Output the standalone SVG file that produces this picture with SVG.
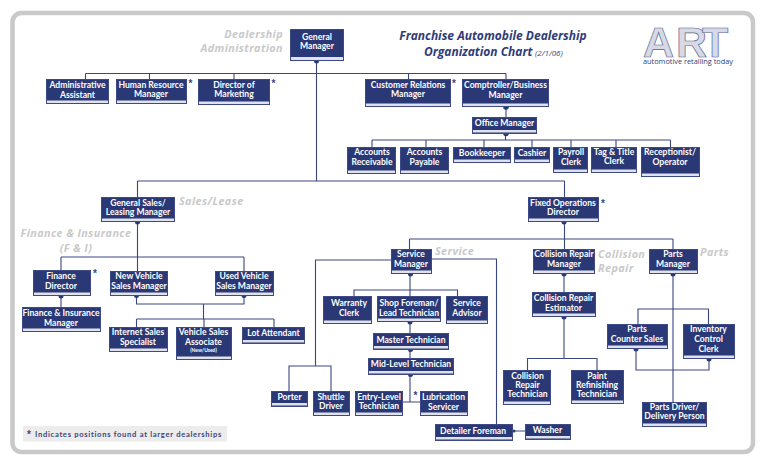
<svg xmlns="http://www.w3.org/2000/svg" width="768" height="466" viewBox="0 0 768 466">
<style>
.bg{fill:#fff}
.frame{fill:none;stroke:#c9c9c9;stroke-width:4.5}
.n rect.b{fill:#2a3875;stroke:#3d4a85;stroke-width:1}
.n rect.s{fill:#dfe2ee}
.n text{font-family:"Lato","Noto Sans",sans-serif;font-weight:700;font-size:8.6px;fill:#fff;text-anchor:middle}
.n text.sm{font-size:5px}
.c path{fill:none;stroke:#3a4680;stroke-width:1.1}
.c circle{fill:#2a3875}
.sec{font-family:"Open Sans","Noto Sans",sans-serif;font-weight:700;font-style:italic;font-size:10.8px;fill:#c9c9c9;letter-spacing:.4px}
.title{font-family:"Open Sans","Noto Sans",sans-serif;font-weight:700;font-style:italic;font-size:12px;fill:#2f3c78}
.star{font-family:"Liberation Sans",sans-serif;font-weight:700;font-size:10px;fill:#3a4680}
</style>
<rect class="bg" width="768" height="466"/>
<rect class="frame" x="12.5" y="13" width="740.5" height="439" rx="9"/>
<text class="sec" x="283" y="38" text-anchor="end">Dealership</text>
<text class="sec" x="283" y="52" text-anchor="end">Administration</text>
<text class="sec" x="179" y="205">Sales/Lease</text>
<text class="sec" x="76" y="237" text-anchor="middle">Finance &amp; Insurance</text>
<text class="sec" x="76" y="251.5" text-anchor="middle">(F &amp; I)</text>
<text class="sec" x="435" y="255">Service</text>
<text class="sec" x="598" y="257.5">Collision</text>
<text class="sec" x="598" y="272">Repair</text>
<text class="sec" x="700" y="256">Parts</text>
<text class="title" x="493" y="39.5" text-anchor="middle">Franchise Automobile Dealership</text>
<text class="title" x="424" y="56">Organization Chart</text>
<text x="535" y="56" style="font-family:'Open Sans',sans-serif;font-style:italic;font-size:8px;fill:#3a4680">(2/1/06)</text>
<g id="logo">
<text x="643 676 702" y="57" style="font-family:'Liberation Sans',sans-serif;font-weight:700;font-size:43px;fill:#d6dae6;stroke:#5b6690;stroke-width:.7">ART</text>
<text x="643" y="63.5" textLength="90" lengthAdjust="spacingAndGlyphs" style="font-family:'Open Sans',sans-serif;font-size:7.4px;fill:#2f3c78">automotive retailing today</text>
</g>
<g class="c" id="connectors">
<path d="M316.5 61V181M85.5 73.5H506M85.5 73.5V79M149.5 73.5V79M234 73.5V79M408.5 73.5V79M506 73.5V117"/>
<path d="M505.5 133V140M372 140H670.5M372 140V147M426 140V147M484 140V147M532 140V147M571 140V147M616 140V147M670.5 140V147"/>
<path d="M137.5 181H564.5M137.5 181V197M564.5 181V197"/>
<path d="M137.5 222V271M61 257H244M61 257V270M244 257V271M61 296V307M136.5 296V304H244V296M203.5 304V319M136.5 319H274M136.5 319V327M204 319V327M274 319V327"/>
<path d="M564.5 222V249M409.5 239H673M409.5 239V249M673 239V249"/>
<path d="M391 260H315.5V366M289 391V366H331V391M432 259H496.5V424"/>
<path d="M410 274V296M354 296V290H457.5V296M410 322V333M410 350V358M410 375V402M403 402H420M513 431H525"/>
<path d="M564 274V292M564 317V358.5M527.5 370V358.5H597V370"/>
<path d="M673 274V402M638 324V309H708.5V324M636 349V370H709V359"/>
<circle cx="316.5" cy="61" r="2.5"/><circle cx="506" cy="107" r="2.8"/><circle cx="506" cy="133.5" r="2.8"/><circle cx="137.5" cy="222" r="2.5"/><circle cx="564" cy="222" r="2.5"/><circle cx="61" cy="296" r="2.5"/><circle cx="136.5" cy="295.5" r="2.5"/><circle cx="244" cy="295.5" r="2.5"/><circle cx="410.5" cy="274" r="2.5"/><circle cx="410" cy="322" r="2.5"/><circle cx="410.5" cy="349.5" r="2.5"/><circle cx="410.5" cy="374.5" r="2.5"/><circle cx="564" cy="274" r="2.5"/><circle cx="564" cy="317" r="2.5"/><circle cx="673" cy="274" r="2.5"/><circle cx="636" cy="349" r="2.5"/><circle cx="709" cy="359" r="2.5"/><circle cx="514" cy="431" r="1.5"/>
</g>
<g id="general-manager" class="n"><rect class="b" x="290.5" y="29.5" width="53" height="31"/><rect class="s" x="291" y="57" width="52" height="3"/><text x="317" y="40">General</text><text x="317" y="49">Manager</text></g>
<g id="administrative-assistant" class="n"><rect class="b" x="46.5" y="79.5" width="62" height="24"/><rect class="s" x="47" y="100.5" width="61" height="2.5"/><text x="77.5" y="88">Administrative</text><text x="77.5" y="98">Assistant</text></g>
<g id="human-resource-manager" class="n"><rect class="b" x="116.5" y="79.5" width="70" height="24"/><rect class="s" x="117" y="100.5" width="69" height="2.5"/><text x="151" y="88">Human Resource</text><text x="151" y="97">Manager</text></g>
<g id="director-of-marketing" class="n"><rect class="b" x="198.5" y="79.5" width="71" height="25"/><rect class="s" x="199" y="101.5" width="70" height="2.5"/><text x="234" y="88">Director of</text><text x="234" y="97">Marketing</text></g>
<g id="customer-relations-manager" class="n"><rect class="b" x="365.5" y="79.5" width="85" height="27"/><rect class="s" x="366" y="103.5" width="84" height="2.5"/><text x="408" y="88">Customer Relations</text><text x="408" y="97">Manager</text></g>
<g id="comptroller" class="n"><rect class="b" x="462.5" y="79.5" width="86" height="27"/><rect class="s" x="463" y="103.5" width="85" height="2.5"/><text x="505.5" y="88">Comptroller/Business</text><text x="505.5" y="97.5">Manager</text></g>
<g id="office-manager" class="n"><rect class="b" x="472.5" y="117.5" width="64" height="16"/><rect class="s" x="473" y="130" width="63" height="2.5"/><text x="504.5" y="126">Office Manager</text></g>
<g id="accounts-receivable" class="n"><rect class="b" x="347.5" y="147.5" width="48" height="26"/><rect class="s" x="348" y="170.5" width="47" height="2.5"/><text x="372" y="155">Accounts</text><text x="372" y="165">Receivable</text></g>
<g id="accounts-payable" class="n"><rect class="b" x="400.5" y="147.5" width="48" height="26"/><rect class="s" x="401" y="170.5" width="47" height="2.5"/><text x="424.5" y="155">Accounts</text><text x="424.5" y="165">Payable</text></g>
<g id="bookkeeper" class="n"><rect class="b" x="453.5" y="147.5" width="57" height="15"/><rect class="s" x="454" y="159.5" width="56" height="2.5"/><text x="482" y="155.5">Bookkeeper</text></g>
<g id="cashier" class="n"><rect class="b" x="514.5" y="147.5" width="35" height="15"/><rect class="s" x="515" y="159.5" width="34" height="2.5"/><text x="532" y="155.5">Cashier</text></g>
<g id="payroll-clerk" class="n"><rect class="b" x="553.5" y="147.5" width="34" height="25"/><rect class="s" x="554" y="169.5" width="33" height="2.5"/><text x="571" y="155">Payroll</text><text x="571" y="165">Clerk</text></g>
<g id="tag-title-clerk" class="n"><rect class="b" x="591.5" y="147.5" width="45" height="25"/><rect class="s" x="592" y="169.5" width="44" height="2.5"/><text x="614" y="155">Tag &amp; Title</text><text x="614" y="164">Clerk</text></g>
<g id="receptionist" class="n"><rect class="b" x="641.5" y="147.5" width="58" height="29"/><rect class="s" x="642" y="173.5" width="57" height="2.5"/><text x="670" y="155">Receptionist/</text><text x="670" y="165">Operator</text></g>
<g id="general-sales" class="n"><rect class="b" x="101.5" y="197.5" width="73" height="24"/><rect class="s" x="102" y="218.5" width="72" height="2.5"/><text x="138" y="206">General Sales/</text><text x="138" y="215">Leasing Manager</text></g>
<g id="fixed-operations" class="n"><rect class="b" x="528.5" y="197.5" width="70" height="24"/><rect class="s" x="529" y="218.5" width="69" height="2.5"/><text x="563" y="205.5">Fixed Operations</text><text x="563" y="215">Director</text></g>
<g id="finance-director" class="n"><rect class="b" x="33.5" y="270.5" width="57" height="25"/><rect class="s" x="34" y="292.5" width="56" height="2.5"/><text x="61" y="279">Finance</text><text x="61" y="289">Director</text></g>
<g id="new-vehicle" class="n"><rect class="b" x="110.5" y="271.5" width="57" height="24"/><rect class="s" x="111" y="292.5" width="56" height="2.5"/><text x="139" y="279">New Vehicle</text><text x="139" y="289">Sales Manager</text></g>
<g id="used-vehicle" class="n"><rect class="b" x="215.5" y="271.5" width="58" height="24"/><rect class="s" x="216" y="292.5" width="57" height="2.5"/><text x="244" y="279">Used Vehicle</text><text x="244" y="289">Sales Manager</text></g>
<g id="fi-manager" class="n"><rect class="b" x="22.5" y="307.5" width="78" height="24"/><rect class="s" x="23" y="328.5" width="77" height="2.5"/><text x="61" y="316">Finance &amp; Insurance</text><text x="61" y="326">Manager</text></g>
<g id="internet-sales" class="n"><rect class="b" x="109.5" y="327.5" width="58" height="24"/><rect class="s" x="110" y="348.5" width="57" height="2.5"/><text x="138" y="335">Internet Sales</text><text x="138" y="345">Specialist</text></g>
<g id="vehicle-sales" class="n"><rect class="b" x="176.5" y="327.5" width="55" height="32"/><rect class="s" x="177" y="356.5" width="54" height="2.5"/><text x="203.5" y="335">Vehicle Sales</text><text x="203.5" y="345">Associate</text><text class="sm" x="203.5" y="352">(New/Used)</text></g>
<g id="lot-attendant" class="n"><rect class="b" x="242.5" y="327.5" width="62" height="16"/><rect class="s" x="243" y="340" width="61" height="2.5"/><text x="273.5" y="336">Lot Attendant</text></g>
<g id="warranty-clerk" class="n"><rect class="b" x="323.5" y="296.5" width="48" height="27"/><rect class="s" x="324" y="320.5" width="47" height="2.5"/><text x="349" y="305.5">Warranty</text><text x="349" y="316">Clerk</text></g>
<g id="shop-foreman" class="n"><rect class="b" x="377.5" y="296.5" width="63" height="25"/><rect class="s" x="378" y="318.5" width="62" height="2.5"/><text x="409" y="305.5">Shop Foreman/</text><text x="409" y="316">Lead Technician</text></g>
<g id="service-advisor" class="n"><rect class="b" x="446.5" y="296.5" width="41" height="27"/><rect class="s" x="447" y="320.5" width="40" height="2.5"/><text x="467" y="305.5">Service</text><text x="467" y="316">Advisor</text></g>
<g id="master-technician" class="n"><rect class="b" x="373.5" y="333.5" width="75" height="16"/><rect class="s" x="374" y="346" width="74" height="2.5"/><text x="411" y="343">Master Technician</text></g>
<g id="mid-level-technician" class="n"><rect class="b" x="368.5" y="358.5" width="85" height="16"/><rect class="s" x="369" y="371" width="84" height="2.5"/><text x="411" y="366.5">Mid-Level Technician</text></g>
<g id="porter" class="n"><rect class="b" x="271.5" y="391.5" width="36" height="15"/><rect class="s" x="272" y="403" width="35" height="2.5"/><text x="289.5" y="400">Porter</text></g>
<g id="shuttle-driver" class="n"><rect class="b" x="313.5" y="391.5" width="36" height="24"/><rect class="s" x="314" y="412.5" width="35" height="2.5"/><text x="331" y="400">Shuttle</text><text x="331" y="409">Driver</text></g>
<g id="entry-level" class="n"><rect class="b" x="355.5" y="391.5" width="47" height="24"/><rect class="s" x="356" y="412.5" width="46" height="2.5"/><text x="379" y="400">Entry-Level</text><text x="379" y="409">Technician</text></g>
<g id="lubrication" class="n"><rect class="b" x="420.5" y="391.5" width="47" height="24"/><rect class="s" x="421" y="412.5" width="46" height="2.5"/><text x="443.5" y="400">Lubrication</text><text x="443.5" y="410">Servicer</text></g>
<g id="detailer-foreman" class="n"><rect class="b" x="435.5" y="424.5" width="77" height="16"/><rect class="s" x="436" y="437" width="76" height="2.5"/><text x="473" y="434">Detailer Foreman</text></g>
<g id="washer" class="n"><rect class="b" x="525.5" y="424.5" width="45" height="15"/><rect class="s" x="526" y="436" width="44" height="2.5"/><text x="547.5" y="432.5">Washer</text></g>
<g id="service-manager" class="n"><rect class="b" x="391.5" y="249.5" width="40" height="24"/><rect class="s" x="392" y="270.5" width="39" height="2.5"/><text x="411" y="257">Service</text><text x="411" y="267">Manager</text></g>
<g id="collision-repair-manager" class="n"><rect class="b" x="533.5" y="249.5" width="61" height="24"/><rect class="s" x="534" y="270.5" width="60" height="2.5"/><text x="564" y="257">Collision Repair</text><text x="564" y="267">Manager</text></g>
<g id="parts-manager" class="n"><rect class="b" x="649.5" y="249.5" width="48" height="24"/><rect class="s" x="650" y="270.5" width="47" height="2.5"/><text x="673" y="257">Parts</text><text x="673" y="267">Manager</text></g>
<g id="collision-repair-estimator" class="n"><rect class="b" x="532.5" y="292.5" width="63" height="24"/><rect class="s" x="533" y="313.5" width="62" height="2.5"/><text x="563.5" y="300.7">Collision Repair</text><text x="563.5" y="310.7">Estimator</text></g>
<g id="collision-repair-technician" class="n"><rect class="b" x="503.5" y="370.5" width="47" height="34"/><rect class="s" x="504" y="401.5" width="46" height="2.5"/><text x="527.5" y="379">Collision</text><text x="527.5" y="388">Repair</text><text x="527.5" y="397">Technician</text></g>
<g id="paint-refinishing" class="n"><rect class="b" x="571.5" y="370.5" width="52" height="33"/><rect class="s" x="572" y="400.5" width="51" height="2.5"/><text x="597" y="379">Paint</text><text x="597" y="388">Refinishing</text><text x="597" y="397">Technician</text></g>
<g id="parts-counter-sales" class="n"><rect class="b" x="607.5" y="324.5" width="60" height="24"/><rect class="s" x="608" y="345.5" width="59" height="2.5"/><text x="637" y="332">Parts</text><text x="637" y="342">Counter Sales</text></g>
<g id="inventory-control" class="n"><rect class="b" x="683.5" y="324.5" width="51" height="34"/><rect class="s" x="684" y="355.5" width="50" height="2.5"/><text x="708.5" y="332">Inventory</text><text x="708.5" y="342">Control</text><text x="708.5" y="352">Clerk</text></g>
<g id="parts-driver" class="n"><rect class="b" x="642.5" y="402.5" width="64" height="24"/><rect class="s" x="643" y="423.5" width="63" height="2.5"/><text x="674.5" y="410">Parts Driver/</text><text x="674.5" y="419">Delivery Person</text></g>
<text class="star" x="188.5" y="87">*</text>
<text class="star" x="271.5" y="87">*</text>
<text class="star" x="452" y="87">*</text>
<text class="star" x="93" y="277">*</text>
<text class="star" x="601" y="207">*</text>
<text class="star" x="413.5" y="399">*</text>
<g id="footnote">
<rect x="23" y="426" width="204" height="15.5" fill="#ececec"/>
<text class="star" x="27" y="438">*</text>
<text x="35" y="436.5" style="font-family:'Lato',sans-serif;font-weight:700;font-size:7.6px;letter-spacing:.7px;fill:#3a4680">Indicates positions found at larger dealerships</text>
</g>
</svg>
